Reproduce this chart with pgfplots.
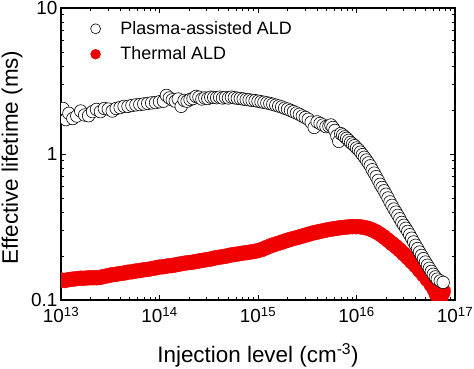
\documentclass[border=0pt]{standalone}
\usepackage{pgfplots}
\pgfplotsset{compat=1.18}
\usepackage{pgfplotstable}
\usepackage{fontspec}
\setmainfont{Liberation Sans}
\definecolor{thred}{RGB}{240,0,0}

\pgfplotstableread{
x y
1.047e13 2.05
1.122e13 1.72
1.202e13 1.90
1.318e13 1.75
1.445e13 1.82
1.585e13 1.97
1.738e13 1.85
1.905e13 1.83
2.089e13 1.95
2.291e13 2.02
2.512e13 1.95
2.754e13 2.05
3.020e13 2.03
3.311e13 1.97
3.631e13 2.05
3.981e13 2.08
4.365e13 2.12
4.786e13 2.12
5.248e13 2.15
5.754e13 2.17
6.310e13 2.18
6.918e13 2.20
7.586e13 2.22
8.318e13 2.24
9.120e13 2.25
1.000e14 2.28
1.096e14 2.30
1.175e14 2.52
1.259e14 2.42
1.349e14 2.35
1.445e14 2.30
1.549e14 2.38
1.660e14 2.12
1.778e14 2.33
1.905e14 2.30
2.042e14 2.36
2.188e14 2.40
2.344e14 2.48
2.512e14 2.45
2.692e14 2.38
2.884e14 2.42
3.090e14 2.40
3.311e14 2.45
3.548e14 2.44
3.802e14 2.43
4.074e14 2.45
4.365e14 2.42
4.677e14 2.44
5.012e14 2.42
5.370e14 2.45
5.754e14 2.43
6.166e14 2.41
6.607e14 2.40
7.079e14 2.38
7.586e14 2.36
8.128e14 2.35
8.710e14 2.33
9.333e14 2.32
1.000e15 2.30
1.072e15 2.28
1.148e15 2.26
1.230e15 2.24
1.318e15 2.22
1.413e15 2.19
1.514e15 2.16
1.622e15 2.13
1.738e15 2.10
1.862e15 2.06
1.995e15 2.03
2.138e15 1.99
2.291e15 1.95
2.455e15 1.91
2.630e15 1.87
2.818e15 1.82
3.020e15 1.78
3.236e15 1.73
3.467e15 1.65
3.715e15 1.52
3.981e15 1.66
4.266e15 1.62
4.571e15 1.58
4.898e15 1.54
5.248e15 1.55
5.495e15 1.58
5.754e15 1.52
6.026e15 1.45
6.310e15 1.33
6.607e15 1.22
6.918e15 1.38
7.244e15 1.35
7.586e15 1.31
7.943e15 1.28
8.318e15 1.24
8.710e15 1.20
9.120e15 1.17
9.550e15 1.14
1.000e16 1.10
1.047e16 1.07
1.096e16 1.03
1.148e16 0.99
1.202e16 0.95
1.259e16 0.91
1.318e16 0.87
1.380e16 0.83
1.445e16 0.78
1.514e16 0.74
1.585e16 0.70
1.660e16 0.66
1.738e16 0.62
1.820e16 0.59
1.905e16 0.56
1.995e16 0.53
2.089e16 0.50
2.188e16 0.47
2.291e16 0.445
2.399e16 0.42
2.512e16 0.40
2.630e16 0.38
2.754e16 0.36
2.884e16 0.34
3.020e16 0.325
3.162e16 0.31
3.311e16 0.295
3.467e16 0.28
3.631e16 0.265
3.802e16 0.25
3.981e16 0.237
4.169e16 0.225
4.365e16 0.213
4.571e16 0.202
4.786e16 0.192
5.012e16 0.182
5.248e16 0.173
5.495e16 0.165
5.754e16 0.157
6.026e16 0.150
6.310e16 0.144
6.607e16 0.139
7.079e16 0.135
7.586e16 0.132
}\plasma

\pgfplotstableread{
x y
1.000e13 0.137
1.096e13 0.136
1.202e13 0.138
1.318e13 0.139
1.445e13 0.140
1.585e13 0.141
1.738e13 0.141
1.905e13 0.142
2.089e13 0.142
2.291e13 0.142
2.512e13 0.143
2.754e13 0.145
3.020e13 0.147
3.311e13 0.149
3.631e13 0.150
3.981e13 0.152
4.365e13 0.153
4.786e13 0.155
5.248e13 0.156
5.754e13 0.158
6.310e13 0.159
6.918e13 0.161
7.586e13 0.162
8.318e13 0.164
9.120e13 0.166
1.000e14 0.168
1.096e14 0.169
1.202e14 0.171
1.318e14 0.172
1.445e14 0.174
1.585e14 0.176
1.738e14 0.178
1.905e14 0.180
2.089e14 0.181
2.291e14 0.183
2.512e14 0.185
2.754e14 0.187
3.020e14 0.189
3.311e14 0.191
3.631e14 0.194
3.981e14 0.196
4.365e14 0.198
4.786e14 0.200
5.248e14 0.203
5.754e14 0.205
6.310e14 0.207
6.918e14 0.209
7.586e14 0.211
8.318e14 0.213
9.120e14 0.215
1.000e15 0.218
1.096e15 0.222
1.202e15 0.228
1.318e15 0.234
1.445e15 0.239
1.585e15 0.244
1.738e15 0.249
1.905e15 0.254
2.089e15 0.259
2.291e15 0.264
2.512e15 0.268
2.754e15 0.273
3.020e15 0.278
3.311e15 0.283
3.631e15 0.288
3.981e15 0.292
4.365e15 0.296
4.786e15 0.300
5.248e15 0.304
5.754e15 0.307
6.310e15 0.310
6.918e15 0.313
7.586e15 0.315
8.318e15 0.317
9.120e15 0.318
1.000e16 0.318
1.096e16 0.317
1.202e16 0.314
1.318e16 0.309
1.445e16 0.302
1.585e16 0.293
1.738e16 0.282
1.905e16 0.270
2.089e16 0.257
2.291e16 0.244
2.512e16 0.232
2.754e16 0.220
3.020e16 0.207
3.311e16 0.195
3.631e16 0.183
3.981e16 0.172
4.365e16 0.160
4.786e16 0.149
5.248e16 0.138
5.754e16 0.127
6.166e16 0.118
6.457e16 0.110
6.761e16 0.104
7.079e16 0.100
7.413e16 0.110
7.586e16 0.115
}\thermal

\begin{document}
\begin{tikzpicture}
\begin{axis}[
  scale only axis,
  width=394bp, height=292bp,
  xmode=log, ymode=log,
  xmin=1e13, xmax=1e17, ymin=0.1, ymax=10,
  xtick={1e13,1e14,1e15,1e16,1e17},
  xticklabels={10\textsuperscript{13},10\textsuperscript{14},10\textsuperscript{15},10\textsuperscript{16},10\textsuperscript{17}},
  ytick={0.1,1,10},
  yticklabels={0.1,1,10},
  tick label style={font=\fontsize{19}{20}\selectfont},
  xticklabel style={yshift=-3.5pt},
  tick align=inside,
  major tick length=5bp,
  minor tick length=3bp,
  axis line style={line width=1.2pt},
  every tick/.style={black, line width=0.9pt},
  xlabel={Injection level (cm\textsuperscript{-3})},
  ylabel={Effective lifetime (ms)},
  label style={font=\fontsize{22.5}{24}\selectfont},
  xlabel style={at={(axis description cs:0.5,-0.19)}, anchor=center},
  ylabel style={at={(axis description cs:-0.1245,0.488)}, anchor=center},
  clip marker paths=true,
  reverse legend,
  legend cell align=left,
  legend style={at={(0.067,0.968)}, anchor=north west, draw=none, fill=none,
    font=\fontsize{18}{20}\selectfont, row sep=7pt,
    /tikz/every odd column/.append style={column sep=18pt}},
  legend image post style={mark size=5pt},
]
\addplot[only marks, mark=*, mark size=7.5pt, color=thred] table {\thermal};
\addlegendentry{Thermal ALD}
\addplot[only marks, mark=*, mark size=6.3pt, mark options={fill=white, draw=black, line width=0.6pt}] table {\plasma};
\addlegendentry{Plasma-assisted ALD}
\coordinate (bbsw) at (rel axis cs:0,0);
\coordinate (bbne) at (rel axis cs:1,1);
\end{axis}
\pgfresetboundingbox
\useasboundingbox ([xshift=-61bp,yshift=-69bp]bbsw) rectangle ([xshift=19bp,yshift=8bp]bbne);
\end{tikzpicture}
\end{document}
